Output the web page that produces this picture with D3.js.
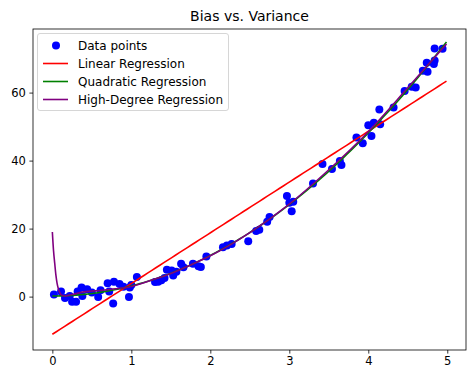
<!DOCTYPE html>
<html><head><meta charset="utf-8">
<script src="https://cdn.jsdelivr.net/npm/d3@7"></script>
<style>body{margin:0;background:#fff}svg{display:block}text{font-family:"DejaVu Sans",sans-serif}</style>
</head><body><svg id="c" width="474" height="379"></svg>
<script>
const dataX = [0.02,0.11,0.16,0.22,0.25,0.30,0.32,0.37,0.38,0.44,0.50,0.58,0.61,0.70,0.72,0.77,0.78,0.85,0.90,0.97,0.98,1.00,1.07,1.30,1.34,1.38,1.42,1.45,1.51,1.53,1.57,1.63,1.66,1.78,1.85,1.88,1.95,2.16,2.21,2.27,2.48,2.58,2.62,2.72,2.75,2.97,3.00,3.03,3.05,3.30,3.42,3.54,3.64,3.66,3.85,3.93,4.00,4.04,4.07,4.14,4.15,4.32,4.46,4.55,4.60,4.69,4.74,4.75,4.83,4.84,4.84,4.94];
const dataY = [0.6,1.5,-0.4,0.2,-1.5,-1.5,1.5,2.7,0.2,2.2,1.2,-0.1,1.9,3.9,1.5,-2.0,4.4,3.7,2.9,-0.1,2.7,3.4,5.8,4.3,4.4,4.8,5.5,7.9,7.7,6.2,7.3,9.7,8.6,9.7,8.9,8.7,11.8,14.5,15.0,15.5,16.3,19.3,19.7,22.0,23.4,29.6,27.6,25.1,27.9,33.3,39.0,37.5,39.9,38.7,46.8,45.1,50.4,47.2,51.1,55.0,50.7,55.6,60.5,61.7,61.5,66.4,68.8,66.1,68.4,69.4,73.0,72.9];
// high-degree regression curve
const highX = [0,0.015,0.03,0.045,0.06,0.075,0.09,0.12,0.16,0.25,0.4,0.6,0.8,1.0,1.25,1.5,1.75,2.0,2.5,3.0,3.5,4.0,4.5,4.99];
const highY = [19,13.5,9.8,6.3,3.9,2.4,1.4,0.4,0.2,0.6,1.4,1.8,2.3,3.0,4.8,6.8,9.3,12.0,18.8,27.2,37.3,48.5,61.4,74.3];
const xTicks = [0,1,2,3,4,5];
const yTicks = [0,20,40,60];
const title = "Bias vs. Variance";
const legendLabels = ["Data points","Linear Regression","Quadratic Regression","High-Degree Regression"];

// least squares fits
function polyfit(xs, ys, deg){
  const n = deg+1;
  const A = Array.from({length:n},()=>Array(n+1).fill(0));
  for(let k=0;k<xs.length;k++){
    for(let i=0;i<n;i++){
      for(let j=0;j<n;j++) A[i][j]+=Math.pow(xs[k],i+j);
      A[i][n]+=ys[k]*Math.pow(xs[k],i);
    }
  }
  for(let i=0;i<n;i++){
    let p=i; for(let r=i+1;r<n;r++) if(Math.abs(A[r][i])>Math.abs(A[p][i])) p=r;
    [A[i],A[p]]=[A[p],A[i]];
    for(let r=0;r<n;r++){ if(r===i) continue; const f=A[r][i]/A[i][i]; for(let c=i;c<=n;c++) A[r][c]-=f*A[i][c]; }
  }
  return A.map((row,i)=>row[n]/row[i]);
}
const lin = polyfit(dataX,dataY,1), quad = polyfit(dataX,dataY,2);
const evalP = (c,x)=>c.reduce((s,v,i)=>s+v*Math.pow(x,i),0);
const gridX = d3.range(0,100).map(i=>i*4.99/99);

const svg = d3.select("#c");
const L=33,R=466,T=29,B=350;
const x = d3.scaleLinear().domain([-0.245,5.237]).range([L,R]);
const y = d3.scaleLinear().domain([-15.7,78.7]).range([B,T]);

svg.append("rect").attr("width",474).attr("height",379).attr("fill","#fff");

// points
svg.append("g").selectAll("circle").data(dataX).join("circle")
  .attr("cx",(d)=>x(d)).attr("cy",(d,i)=>y(dataY[i])).attr("r",4).attr("fill","blue");

const line = d3.line().x(d=>x(d[0])).y(d=>y(d[1]));
svg.append("path").attr("d",line(gridX.map(v=>[v,evalP(lin,v)]))).attr("fill","none").attr("stroke","red").attr("stroke-width",1.6);
svg.append("path").attr("d",line(gridX.map(v=>[v,evalP(quad,v)]))).attr("fill","none").attr("stroke","green").attr("stroke-width",1.6);
svg.append("path").attr("d",d3.line().curve(d3.curveMonotoneX).x(d=>x(d[0])).y(d=>y(d[1]))(highX.map((v,i)=>[v,highY[i]]))).attr("fill","none").attr("stroke","purple").attr("stroke-width",1.6);

// axes
const ax = svg.append("g").attr("transform",`translate(0,${B})`).call(d3.axisBottom(x).tickValues(xTicks).tickSize(3.6).tickPadding(3.5).tickFormat(d3.format("d")));
const ay = svg.append("g").attr("transform",`translate(${L},0)`).call(d3.axisLeft(y).tickValues(yTicks).tickSize(3.6).tickPadding(3.5).tickFormat(d3.format("d")));
[ax,ay].forEach(g=>{g.select(".domain").remove(); g.selectAll("line").attr("stroke","#000").attr("stroke-width",0.8); g.selectAll("text").attr("font-size",11.5).attr("fill","#000").attr("font-family","DejaVu Sans");});
svg.append("rect").attr("x",L).attr("y",T).attr("width",R-L).attr("height",B-T).attr("fill","none").attr("stroke","#000").attr("stroke-width",0.8);

svg.append("text").attr("x",(L+R)/2).attr("y",21).attr("text-anchor","middle").attr("font-size",14).text(title);

// legend
const lg = svg.append("g");
lg.append("rect").attr("x",37.5).attr("y",33.5).attr("width",191).attr("height",77).attr("rx",2.5).attr("fill","#fff").attr("fill-opacity",0.8).attr("stroke","#ccc").attr("stroke-width",0.8);
const colors=[null,"red","green","purple"];
legendLabels.forEach((t,i)=>{
  const cy = 45.5+i*18;
  if(i===0) lg.append("circle").attr("cx",56).attr("cy",cy).attr("r",4).attr("fill","blue");
  else lg.append("line").attr("x1",43).attr("x2",68).attr("y1",cy).attr("y2",cy).attr("stroke",colors[i]).attr("stroke-width",1.6);
  lg.append("text").attr("x",78).attr("y",cy).attr("dy","0.35em").attr("font-size",12).text(t);
});
</script></body></html>
